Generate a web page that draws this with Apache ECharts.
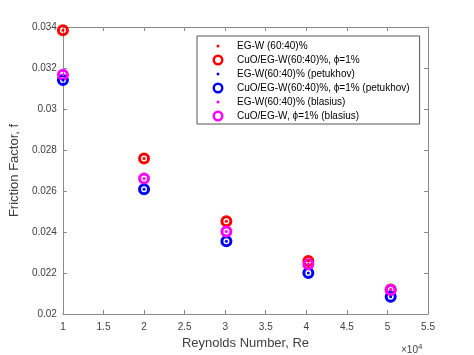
<!DOCTYPE html>
<html>
<head>
<meta charset="utf-8">
<script src="https://cdn.jsdelivr.net/npm/echarts@6/dist/echarts.min.js"></script>
<style>html,body{margin:0;padding:0;background:#fff}#c{width:474px;height:355px}</style>
</head>
<body>
<div id="c"></div>
<script>
// Data
var reynolds = [10000, 20000, 30150, 40250, 50400];
var egwBase = [0.03384, 0.02758, 0.02452, 0.02259, 0.02120];
var cuoEgw = [0.03384, 0.02758, 0.02452, 0.02259, 0.02120];
var egwPetukhov = [0.03142, 0.02608, 0.02355, 0.02200, 0.02084];
var cuoPetukhov = [0.03142, 0.02608, 0.02355, 0.02200, 0.02084];
var egwBlasius = [0.03167, 0.02661, 0.02403, 0.02243, 0.02117];
var cuoBlasius = [0.03167, 0.02661, 0.02403, 0.02243, 0.02117];
var seriesNames = [
  'EG-W (60:40)%',
  'CuO/EG-W(60:40)%, \u03d5=1%',
  'EG-W(60:40)% (petukhov)',
  'CuO/EG-W(60:40)%, \u03d5=1% (petukhov)',
  'EG-W(60:40)% (blasius)',
  'CuO/EG-W, \u03d5=1% (blasius)'
];
var xTickLabels = ['1','1.5','2','2.5','3','3.5','4','4.5','5','5.5'];

function pairs(ys){ return reynolds.map(function(x,i){ return [x, ys[i]]; }); }

var RED='#ff0000', BLUE='#0000ff', MAG='#ff00ff';
var FONT='Liberation Sans, Arial, sans-serif';

var ringIcon = 'path://M0,0M22,12M2.5,6a5.5,5.5 0 1,0 11,0a5.5,5.5 0 1,0 -11,0M5,6a3,3 0 1,1 6,0a3,3 0 1,1 -6,0';
var dotIcon = 'path://M0,0M22,12M6.5,6a1.5,1.5 0 1,0 3,0a1.5,1.5 0 1,0 -3,0';

function dotSeries(name, ys, color){
  return {name:name, type:'scatter', data:pairs(ys), symbol:'circle', symbolSize:3,
    clip:false, itemStyle:{color:color, opacity:1}, z:3};
}
function ringSeries(name, ys, color){
  return {name:name, type:'scatter', data:pairs(ys), symbol:'circle', symbolSize:9,
    clip:false, itemStyle:{color:'rgba(0,0,0,0)', borderColor:color, borderWidth:3, opacity:1}, z:2};
}

var axisLineStyle = {color:'#8a8a8a', width:1};
var labelStyle = {color:'#404040', fontSize:10, fontFamily:FONT};

var option = {
  animation:false,
  backgroundColor:'#fff',
  grid:{left:62, right:46, top:27, bottom:40},
  xAxis:[{
    type:'value', min:10000, max:55000, interval:5000,
    name:'Reynolds Number, Re', nameLocation:'middle', nameGap:23,
    nameTextStyle:{color:'#404040', fontSize:13, fontFamily:FONT},
    axisLine:{show:true, lineStyle:axisLineStyle},
    axisTick:{show:true, inside:true, length:4, lineStyle:axisLineStyle},
    axisLabel:{margin:8, color:labelStyle.color, fontSize:10, fontFamily:FONT,
      formatter:function(v){ var i=Math.round((v-10000)/5000); return xTickLabels[i]; }},
    splitLine:{show:false}
  },{
    type:'value', position:'top', min:10000, max:55000, interval:5000,
    axisLine:{show:true, onZero:false, lineStyle:axisLineStyle},
    axisTick:{show:true, inside:true, length:4, lineStyle:axisLineStyle},
    axisLabel:{show:false}, splitLine:{show:false}
  }],
  yAxis:[{
    type:'value', min:0.02, max:0.034, interval:0.002,
    name:'Friction Factor, f', nameLocation:'middle', nameGap:40,
    nameTextStyle:{color:'#404040', fontSize:13, fontFamily:FONT},
    axisLine:{show:true, lineStyle:axisLineStyle},
    axisTick:{show:true, inside:true, length:4, lineStyle:axisLineStyle},
    axisLabel:{margin:6, color:labelStyle.color, fontSize:10, fontFamily:FONT,
      formatter:function(v){ return String(parseFloat(v.toFixed(3))); }},
    splitLine:{show:false}
  },{
    type:'value', position:'right', min:0.02, max:0.034, interval:0.002,
    axisLine:{show:true, onZero:false, lineStyle:axisLineStyle},
    axisTick:{show:true, inside:true, length:4, lineStyle:axisLineStyle},
    axisLabel:{show:false}, splitLine:{show:false}
  }],
  legend:{
    orient:'vertical', left:197, top:36, width:221,
    padding:[4, 10, 2, 13], itemGap:2, itemWidth:22, itemHeight:12,
    backgroundColor:'#fff', borderColor:'#555', borderWidth:1,
    textStyle:{color:'#000', fontSize:10, fontFamily:FONT},
    itemStyle:{borderWidth:0},
    data:[
      {name:seriesNames[0], icon:dotIcon, itemStyle:{color:RED, borderWidth:0}},
      {name:seriesNames[1], icon:ringIcon, itemStyle:{color:RED, borderWidth:0}},
      {name:seriesNames[2], icon:dotIcon, itemStyle:{color:BLUE, borderWidth:0}},
      {name:seriesNames[3], icon:ringIcon, itemStyle:{color:BLUE, borderWidth:0}},
      {name:seriesNames[4], icon:dotIcon, itemStyle:{color:MAG, borderWidth:0}},
      {name:seriesNames[5], icon:ringIcon, itemStyle:{color:MAG, borderWidth:0}}
    ]
  },
  graphic:[{
    type:'text', left:401, top:343,
    style:{text:'\u00d710{s|4}', fill:'#404040', font:'10px '+FONT,
      rich:{s:{fontSize:8, verticalAlign:'top', padding:[0,0,6,0], fill:'#404040', fontFamily:FONT}}}
  }],
  series:[
    dotSeries(seriesNames[0], egwBase, RED),
    ringSeries(seriesNames[1], cuoEgw, RED),
    dotSeries(seriesNames[2], egwPetukhov, BLUE),
    ringSeries(seriesNames[3], cuoPetukhov, BLUE),
    dotSeries(seriesNames[4], egwBlasius, MAG),
    ringSeries(seriesNames[5], cuoBlasius, MAG)
  ]
};
var chart = echarts.init(document.getElementById('c'));
chart.setOption(option);
</script>
</body>
</html>
